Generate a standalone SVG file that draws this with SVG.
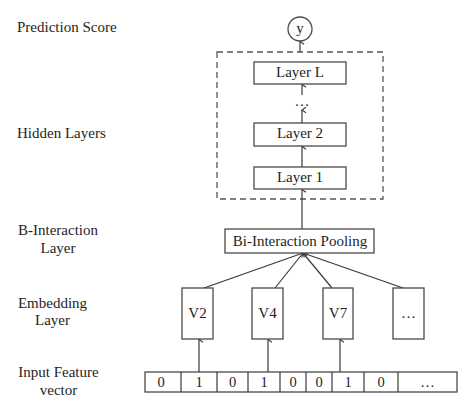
<svg xmlns="http://www.w3.org/2000/svg" width="474" height="412" viewBox="0 0 474 412">
<defs>
<marker id="ah" markerWidth="8" markerHeight="8" refX="4" refY="1" orient="auto-start-reverse" markerUnits="userSpaceOnUse" viewBox="0 0 8 8">
<path d="M1.2,5 L4,1 L6.8,5" fill="none" stroke="#3a3a3a" stroke-width="1.1"/>
</marker>
</defs>
<style>
text{font-family:"Liberation Serif","Times New Roman",serif;font-size:15px;fill:#1e1e1e}
.lbl{font-size:15px}
.c{text-anchor:middle}
.box{fill:#fff;stroke:#4a4a4a;stroke-width:1.3}
.ln{stroke:#3a3a3a;stroke-width:1.2;fill:none}
.dash{fill:none;stroke:#555;stroke-width:1.3;stroke-dasharray:6,4}
.cell{fill:#fff;stroke:#4a4a4a;stroke-width:1.3}
.d{font-size:14.5px;text-anchor:middle}
</style>
<rect width="474" height="412" fill="#fff"/>
<g id="labels">
<text class="lbl" x="17" y="32">Prediction Score</text>
<text class="lbl" x="17" y="138">Hidden Layers</text>
<text class="lbl c" x="58" y="235">B-Interaction</text>
<text class="lbl c" x="58" y="253">Layer</text>
<text class="lbl c" x="52.5" y="308">Embedding</text>
<text class="lbl c" x="52.5" y="325">Layer</text>
<text class="lbl c" x="58.5" y="377">Input Feature</text>
<text class="lbl c" x="58.5" y="395">vector</text>
</g>
<g id="hidden-group">
<rect class="dash" x="217" y="52" width="166" height="147"/>
</g>
<g id="connectors">
<line class="ln" x1="300" y1="52" x2="300" y2="41.5" marker-end="url(#ah)"/>
<line class="ln" x1="302" y1="95" x2="302" y2="84.5" marker-end="url(#ah)"/>
<line class="ln" x1="302" y1="123" x2="302" y2="110" marker-end="url(#ah)"/>
<line class="ln" x1="302" y1="167" x2="302" y2="146.5" marker-end="url(#ah)"/>
<line class="ln" x1="302" y1="229" x2="302" y2="189.5" marker-end="url(#ah)"/>
<line class="ln" x1="204" y1="288" x2="303" y2="253" marker-end="url(#ah)"/>
<line class="ln" x1="275" y1="288" x2="303" y2="253" marker-end="url(#ah)"/>
<line class="ln" x1="332" y1="288" x2="303" y2="253" marker-end="url(#ah)"/>
<line class="ln" x1="403" y1="288" x2="303" y2="253" marker-end="url(#ah)"/>
<line class="ln" x1="199" y1="372" x2="199" y2="339.5" marker-end="url(#ah)"/>
<line class="ln" x1="268" y1="372" x2="268" y2="339.5" marker-end="url(#ah)"/>
<line class="ln" x1="340" y1="372" x2="340" y2="339.5" marker-end="url(#ah)"/>
</g>
<g id="y-node">
<circle cx="300" cy="29" r="12" fill="#fff" stroke="#4a4a4a" stroke-width="1.3"/>
<text class="c" x="300" y="33">y</text>
</g>
<g id="layer-L">
<rect class="box" x="254" y="62" width="92" height="22"/>
<text class="c" x="300" y="77">Layer L</text>
</g>
<g id="layer-dots">
<text class="c" x="302" y="106">…</text>
</g>
<g id="layer-2">
<rect class="box" x="254" y="123" width="92" height="23"/>
<text class="c" x="300" y="138">Layer 2</text>
</g>
<g id="layer-1">
<rect class="box" x="254" y="167" width="92" height="22"/>
<text class="c" x="300" y="182">Layer 1</text>
</g>
<g id="bi-pooling">
<rect class="box" x="225" y="229" width="149" height="24"/>
<text class="c" x="300" y="246">Bi-Interaction Pooling</text>
</g>
<g id="emb-v2">
<rect class="box" x="182" y="288" width="31" height="51"/>
<text class="c" x="197.5" y="318">V2</text>
</g>
<g id="emb-v4">
<rect class="box" x="252" y="288" width="31" height="51"/>
<text class="c" x="267.5" y="318">V4</text>
</g>
<g id="emb-v7">
<rect class="box" x="323" y="288" width="30" height="51"/>
<text class="c" x="338" y="318">V7</text>
</g>
<g id="emb-more">
<rect class="box" x="393" y="288" width="31" height="51"/>
<text class="c" x="408.5" y="318">…</text>
</g>
<g id="input-vector">
<rect class="cell" x="145" y="372" width="312" height="20"/>
<line class="ln" x1="181" y1="372" x2="181" y2="392"/>
<line class="ln" x1="217" y1="372" x2="217" y2="392"/>
<line class="ln" x1="248" y1="372" x2="248" y2="392"/>
<line class="ln" x1="280" y1="372" x2="280" y2="392"/>
<line class="ln" x1="306" y1="372" x2="306" y2="392"/>
<line class="ln" x1="332" y1="372" x2="332" y2="392"/>
<line class="ln" x1="364" y1="372" x2="364" y2="392"/>
<line class="ln" x1="398" y1="372" x2="398" y2="392"/>
<text class="d" x="161" y="387">0</text>
<text class="d" x="199" y="387">1</text>
<text class="d" x="232.5" y="387">0</text>
<text class="d" x="264" y="387">1</text>
<text class="d" x="293" y="387">0</text>
<text class="d" x="319" y="387">0</text>
<text class="d" x="348" y="387">1</text>
<text class="d" x="381" y="387">0</text>
<text class="d" x="427.5" y="387">…</text>
</g>
</svg>
